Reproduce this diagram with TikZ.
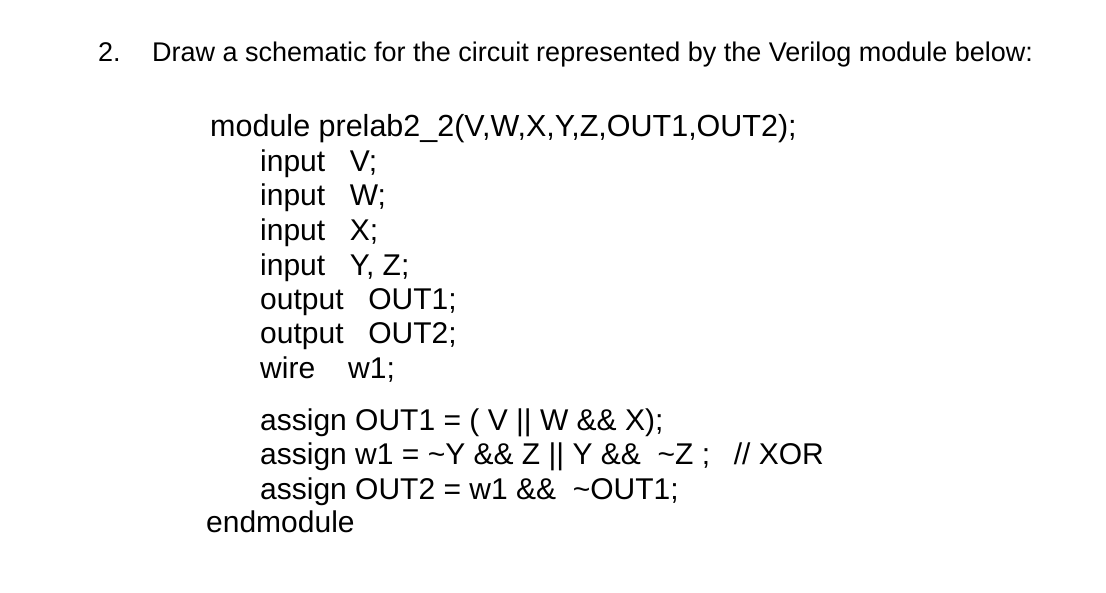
\documentclass[tikz,border=0pt]{standalone}
\usepackage{fontspec}
\setmainfont{Liberation Sans}
\usetikzlibrary{positioning}
\tikzset{
  headline/.style={anchor=base west,inner sep=0pt,font=\fontsize{27}{32}\selectfont},
  codeline/.style={anchor=base west,inner sep=0pt,font=\fontsize{30}{36}\selectfont}
}
\begin{document}
\begin{tikzpicture}[x=1pt,y=-1pt]
    \useasboundingbox (0,0) rectangle (1106,592);
    \fill[white] (0,0) rectangle (1106,592);
    \node[headline] (num) at (98,61) {2.};
    \node[headline] (title) at (152,61) {Draw a schematic for the circuit represented by the Verilog module below:};
    \node[codeline,font=\fontsize{30.5}{36}\selectfont] (head) at (210,136) {module prelab2\_2(V,W,X,Y,Z,OUT1,OUT2);};
    \foreach \name/\ypos/\txt in {v/171/{input\ \ \hspace{8pt}V;},w/205/{input\ \ \hspace{8pt}W;},x/240/{input\ \ \hspace{8pt}X;},yz/275/{input\ \ \hspace{8pt}Y, Z;},outa/309/{output\ \ \hspace{8pt}OUT1;},outb/343/{output\ \ \hspace{8pt}OUT2;},wire/378/{wire\ \ \ \hspace{8pt}w1;}}{
      \node[codeline] (\name) at (260,\ypos) {\txt};
    }
    \node[codeline] (asga) at (260,430) {assign OUT1 = ( V || W \&\& X);};
    \node[codeline] (asgb) at (260,464) {assign w1 = \textasciitilde Y \&\& Z || Y \&\& \ \textasciitilde Z ; \ \hspace{7pt}// XOR};
    \node[codeline] (asgc) at (260,499) {assign OUT2 = w1 \&\& \ \textasciitilde OUT1;};
    \node[codeline] (endm) at (206,532) {endmodule};
\end{tikzpicture}
\end{document}
